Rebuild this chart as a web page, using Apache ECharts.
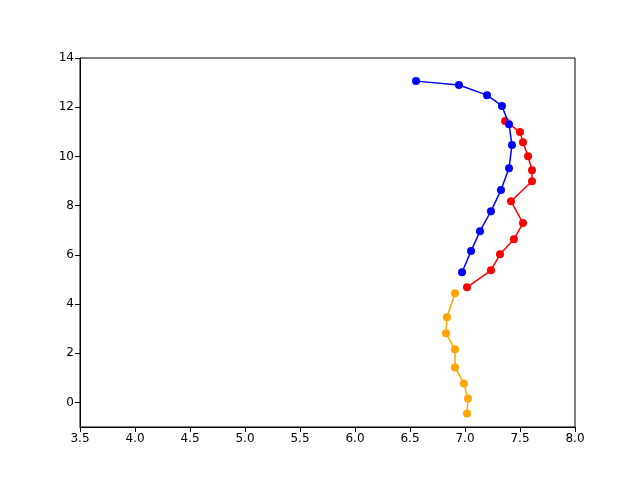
<!DOCTYPE html>
<html>
<head>
<meta charset="utf-8">
<title>chart</title>
<script src="https://cdn.jsdelivr.net/npm/echarts@6/dist/echarts.min.js"></script>
</head>
<body style="margin:0">
<div id="main" style="width:640px;height:480px"></div>
<script>
// data
var blueX = [6.555, 6.945, 7.20, 7.336, 7.40, 7.427, 7.40, 7.327, 7.236, 7.136, 7.055, 6.973];
var blueY = [13.06, 12.90, 12.49, 12.05, 11.31, 10.46, 9.52, 8.63, 7.77, 6.96, 6.15, 5.29];
var redX = [7.364, 7.50, 7.527, 7.573, 7.609, 7.609, 7.418, 7.527, 7.445, 7.318, 7.236, 7.018];
var redY = [11.44, 10.99, 10.58, 10.01, 9.44, 8.99, 8.18, 7.29, 6.63, 6.02, 5.37, 4.68];
var orangeX = [6.909, 6.836, 6.827, 6.909, 6.909, 6.99, 7.027, 7.018];
var orangeY = [4.44, 3.46, 2.81, 2.16, 1.42, 0.77, 0.16, -0.45];
var yTicks = [0, 2, 4, 6, 8, 10, 12, 14];

function pairs(xs, ys) {
    return xs.map(function (x, i) { return [x, ys[i]]; });
}
function mk(name, xs, ys, color, z) {
    return {
        name: name, type: 'line', data: pairs(xs, ys), z: z,
        symbol: 'circle', symbolSize: 8, showSymbol: true,
        itemStyle: { color: color }, lineStyle: { color: color, width: 1.5 },
        animation: false
    };
}

var chart = echarts.init(document.getElementById('main'));
var axText = { color: '#000', fontSize: 12, fontFamily: 'DejaVu Sans' };
chart.setOption({
    grid: { left: 80, right: 65, top: 58, bottom: 53, show: true, borderColor: '#000', borderWidth: 1 },
    xAxis: {
        type: 'value', min: 3.5, max: 8, interval: 0.5,
        axisLine: { onZero: false, lineStyle: { color: '#000' } },
        axisTick: { show: true, length: 5, lineStyle: { color: '#000' } },
        axisLabel: Object.assign({ margin: 6, formatter: function (v) { return v.toFixed(1); } }, axText),
        splitLine: { show: false }
    },
    yAxis: {
        type: 'value', min: -1, max: 14, interval: 1,
        axisLine: { show: true, onZero: false, lineStyle: { color: '#000' } },
        axisTick: { show: true, length: 5, customValues: yTicks, lineStyle: { color: '#000' } },
        axisLabel: Object.assign({ margin: 6, customValues: yTicks }, axText),
        splitLine: { show: false }
    },
    series: [
        mk('orange', orangeX, orangeY, 'orange', 2),
        mk('red', redX, redY, 'red', 3),
        mk('blue', blueX, blueY, 'blue', 4)
    ]
});
</script>
</body>
</html>
